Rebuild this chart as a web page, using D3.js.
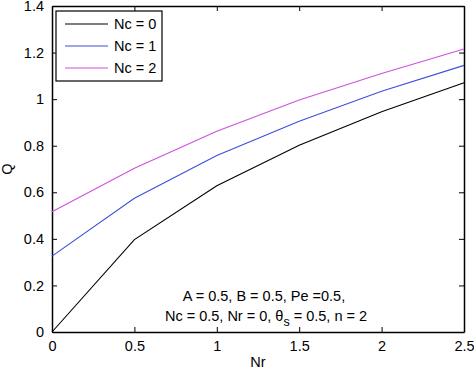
<!DOCTYPE html>
<html>
<head>
<meta charset="utf-8">
<script src="https://cdn.jsdelivr.net/npm/d3@7"></script>
<style>
  body { margin: 0; background: #fff; }
  text { font-family: "Liberation Sans", Arial, sans-serif; }
</style>
</head>
<body>
<div id="chart"></div>
<script>
// data
const nrValues = [0, 0.5, 1, 1.5, 2, 2.5];
const qNc0 = [0, 0.397, 0.628, 0.802, 0.946, 1.07];
const qNc1 = [0.326, 0.574, 0.758, 0.905, 1.034, 1.145];
const qNc2 = [0.516, 0.703, 0.862, 0.996, 1.11, 1.215];
const seriesNames = ['Nc = 0', 'Nc = 1', 'Nc = 2'];
const seriesColors = ['#000000', '#3a50d8', '#d050e0'];
const xTicks = [0, 0.5, 1, 1.5, 2, 2.5];
const yTicks = [0, 0.2, 0.4, 0.6, 0.8, 1, 1.2, 1.4];

const width = 474, height = 372;
const margin = {top: 6, right: 10, bottom: 40, left: 52};

const svg = d3.select('#chart')
  .append('svg')
    .attr('width', width)
    .attr('height', height);

const x = d3.scaleLinear().domain([0, 2.5]).range([margin.left, width - margin.right]);
const y = d3.scaleLinear().domain([0, 1.4]).range([height - margin.bottom, margin.top]);

// axes, ticks pointing inward, mirrored on top/right
const tickLen = 5;
svg.append('g')
    .attr('transform', `translate(0,${y(0)})`)
    .call(d3.axisBottom(x).tickValues(xTicks).tickSizeInner(-tickLen).tickSizeOuter(0).tickPadding(9).tickFormat(d3.format('')))
    .call(g => g.selectAll('text').style('font-size', '14.5px').attr('fill', '#000'));
svg.append('g')
    .attr('transform', `translate(${x(0)},0)`)
    .call(d3.axisLeft(y).tickValues(yTicks).tickSizeInner(-tickLen).tickSizeOuter(0).tickPadding(8).tickFormat(d3.format('')))
    .call(g => g.selectAll('text').style('font-size', '14.5px').attr('fill', '#000'));
svg.append('g')
    .attr('transform', `translate(0,${y(1.4)})`)
    .call(d3.axisTop(x).tickValues(xTicks).tickSizeInner(-tickLen).tickSizeOuter(0).tickFormat(''));
svg.append('g')
    .attr('transform', `translate(${x(2.5)},0)`)
    .call(d3.axisRight(y).tickValues(yTicks).tickSizeInner(-tickLen).tickSizeOuter(0).tickFormat(''));

svg.selectAll('.domain').attr('stroke', '#000').attr('stroke-width', 1.5);
svg.selectAll('.tick line').attr('stroke', '#000');

// lines
const line = d3.line()
  .x((d, i) => x(nrValues[i]))
  .y(d => y(d));

[qNc0, qNc1, qNc2].forEach((s, i) => {
  svg.append('path')
    .datum(s)
    .attr('fill', 'none')
    .attr('stroke', seriesColors[i])
    .attr('stroke-width', 1.1)
    .attr('d', line);
});

// axis labels
svg.append('text')
  .attr('x', (x(0) + x(2.5)) / 2)
  .attr('y', 367)
  .attr('text-anchor', 'middle')
  .style('font-size', '14.5px')
  .text('Nr');
svg.append('text')
  .attr('transform', `translate(12,${(y(0) + y(1.4)) / 2}) rotate(-90)`)
  .attr('text-anchor', 'middle')
  .style('font-size', '14.5px')
  .text('Q');

// legend
const legend = svg.append('g');
legend.append('rect')
  .attr('x', 56).attr('y', 11)
  .attr('width', 106).attr('height', 70)
  .attr('fill', '#fff')
  .attr('stroke', '#000')
  .attr('stroke-width', 1.2);
seriesNames.forEach((name, i) => {
  const ly = 24 + i * 22;
  legend.append('line')
    .attr('x1', 65).attr('x2', 108)
    .attr('y1', ly).attr('y2', ly)
    .attr('stroke', seriesColors[i])
    .attr('stroke-width', 1.1);
  legend.append('text')
    .attr('x', 114).attr('y', ly + 5)
    .style('font-size', '14.5px')
    .text(name);
});

// parameter note
const note = svg.append('g').style('font-size', '14.5px');
note.append('text')
  .attr('x', 264).attr('y', 301)
  .attr('text-anchor', 'middle')
  .text('A = 0.5, B = 0.5, Pe =0.5,');
const t2 = note.append('text')
  .attr('x', 266).attr('y', 321)
  .attr('text-anchor', 'middle');
t2.append('tspan').text('Nc = 0.5, Nr = 0, θ');
t2.append('tspan').attr('dy', 5).style('font-size', '12.5px').text('s');
t2.append('tspan').attr('dy', -5).text(' = 0.5, n = 2');
</script>
</body>
</html>
